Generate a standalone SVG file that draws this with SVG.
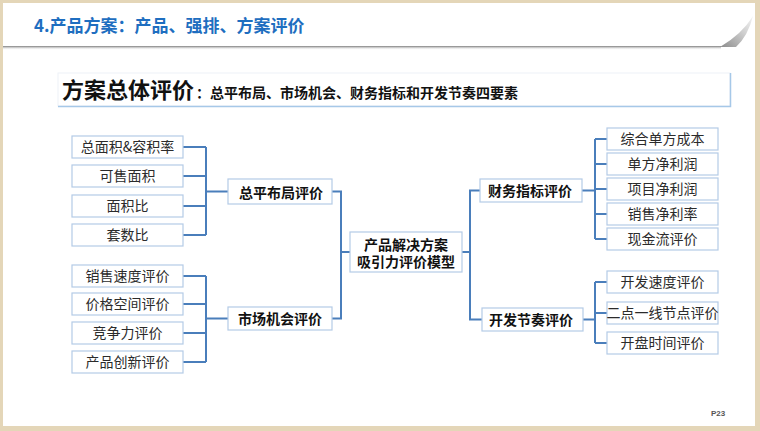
<svg xmlns="http://www.w3.org/2000/svg" width="760" height="431" viewBox="0 0 760 431">
<defs>
<style>
.leaf rect{fill:#fff;stroke:#b4cbe6;stroke-width:1.2}
.leaf text{font-family:"Noto Sans CJK SC","Liberation Sans",sans-serif;font-size:14px;fill:#2b2b2b;text-anchor:middle}
.hub rect{fill:#fff;stroke:#b4cbe6;stroke-width:1.2}
.hub text{font-family:"Noto Sans CJK SC","Liberation Sans",sans-serif;font-size:14px;font-weight:bold;fill:#111;text-anchor:middle}
.conn path{fill:none;stroke:#4a7ebb;stroke-width:2}
</style>
<linearGradient id="curl" x1="0" y1="1" x2="1" y2="0">
<stop offset="0" stop-color="#8c8c8c"/>
<stop offset="0.6" stop-color="#d0d0d0"/>
<stop offset="1" stop-color="#f4f4f4"/>
</linearGradient>
<linearGradient id="shadow" x1="0" y1="0" x2="0" y2="1">
<stop offset="0" stop-color="#7a7a7a"/>
<stop offset="1" stop-color="#ffffff" stop-opacity="0"/>
</linearGradient>
</defs>
<rect x="0" y="0" width="760" height="431" fill="#e4d6b8"/>
<rect x="3" y="3" width="752" height="423" fill="#ffffff"/>
<!-- header -->
<rect x="3" y="46" width="718" height="4" fill="url(#shadow)"/>
<path d="M720,47 L736,47 Q748,36 753,16 Q742,34 720,47 Z" fill="url(#curl)"/>
<text x="34" y="32" font-family="'Noto Sans CJK SC','Liberation Sans',sans-serif" font-size="17" font-weight="bold" fill="#1e6ec0">4.产品方案：产品、强排、方案评价</text>
<!-- subtitle -->
<g id="subtitle">
<rect x="58" y="73" width="672" height="33" fill="#fff" stroke="#eef2f7" stroke-width="1"/>
<path d="M58,106.5 H730.5 V73" fill="none" stroke="#a6c8e8" stroke-width="1.5"/>
<text x="62" y="98" font-family="'Noto Sans CJK SC','Liberation Sans',sans-serif" font-weight="bold" fill="#111"><tspan font-size="22">方案总体评价</tspan><tspan font-size="14" dx="2">：总平布局、市场机会、财务指标和开发节奏四要素</tspan></text>
</g>
<!-- connectors -->
<g id="connectors" class="conn">
<path d="M183,147 H206 M183,176 H206 M183,206 H206 M183,235 H206 M206,147 V235 M206,191.5 H228"/>
<path d="M183,276 H206 M183,304 H206 M183,333 H206 M183,362 H206 M206,276 V362 M206,318.5 H228"/>
<path d="M332,191.5 H341 V318.5 H332 M341,252 H350"/>
<path d="M462,252 H470 M480,190.5 H470 V319.5 H482"/>
<path d="M582,190.5 H595 M595,139 V239 M595,139 H607 M595,164 H607 M595,189 H607 M595,214 H607 M595,239 H607"/>
<path d="M583,319.5 H595 M595,282 V343 M595,282 H607 M595,313 H607 M595,343 H607"/>
</g>
<!-- left leaves group 1 -->
<g id="n-zmj" class="leaf"><rect x="72" y="136" width="111" height="22"/><text x="127.5" y="152.3">总面积&amp;容积率</text></g>
<g id="n-ksmj" class="leaf"><rect x="72" y="165" width="111" height="22"/><text x="127.5" y="181.3">可售面积</text></g>
<g id="n-mjb" class="leaf"><rect x="72" y="195" width="111" height="22"/><text x="127.5" y="211.3">面积比</text></g>
<g id="n-tsb" class="leaf"><rect x="72" y="224" width="111" height="22"/><text x="127.5" y="240.3">套数比</text></g>
<!-- left leaves group 2 -->
<g id="n-xssd" class="leaf"><rect x="72" y="265" width="111" height="22"/><text x="127.5" y="281.3">销售速度评价</text></g>
<g id="n-jgkj" class="leaf"><rect x="72" y="293" width="111" height="22"/><text x="127.5" y="309.3">价格空间评价</text></g>
<g id="n-jzl" class="leaf"><rect x="72" y="322" width="111" height="22"/><text x="127.5" y="338.3">竞争力评价</text></g>
<g id="n-cpcx" class="leaf"><rect x="72" y="351" width="111" height="22"/><text x="127.5" y="367.3">产品创新评价</text></g>
<!-- hubs -->
<g id="n-zpbj" class="hub"><rect x="228" y="179" width="104" height="25"/><text x="281" y="197.5" font-size="15.5">总平布局评价</text></g>
<g id="n-scjh" class="hub"><rect x="228" y="307" width="104" height="23"/><text x="280" y="323.8">市场机会评价</text></g>
<g id="n-center" class="hub"><rect x="350" y="232" width="112" height="40"/><text x="406" y="249.5">产品解决方案<tspan x="406" dy="17">吸引力评价模型</tspan></text></g>
<g id="n-cwzb" class="hub"><rect x="480" y="179" width="102" height="23"/><text x="530" y="195.8">财务指标评价</text></g>
<g id="n-kfjz" class="hub"><rect x="482" y="308" width="101" height="23"/><text x="531" y="324.8">开发节奏评价</text></g>
<!-- right leaves -->
<g id="n-zhdf" class="leaf"><rect x="607" y="128" width="111" height="22"/><text x="662.5" y="144.3">综合单方成本</text></g>
<g id="n-dfjl" class="leaf"><rect x="607" y="153" width="111" height="22"/><text x="662.5" y="169.3">单方净利润</text></g>
<g id="n-xmjl" class="leaf"><rect x="607" y="178" width="111" height="22"/><text x="662.5" y="194.3">项目净利润</text></g>
<g id="n-xsjl" class="leaf"><rect x="607" y="203" width="111" height="22"/><text x="662.5" y="219.3">销售净利率</text></g>
<g id="n-xjl" class="leaf"><rect x="607" y="228" width="111" height="22"/><text x="662.5" y="244.3">现金流评价</text></g>
<g id="n-kfsd" class="leaf"><rect x="607" y="271" width="111" height="22"/><text x="662.5" y="287.3">开发速度评价</text></g>
<g id="n-edyx" class="leaf"><rect x="607" y="302" width="111" height="22"/><text x="662.5" y="318.3">二点一线节点评价</text></g>
<g id="n-kpsj" class="leaf"><rect x="607" y="332" width="111" height="22"/><text x="662.5" y="348.3">开盘时间评价</text></g>
<text x="711" y="416" font-family="'Liberation Sans',sans-serif" font-size="8" font-weight="bold" fill="#555">P23</text>
</svg>
